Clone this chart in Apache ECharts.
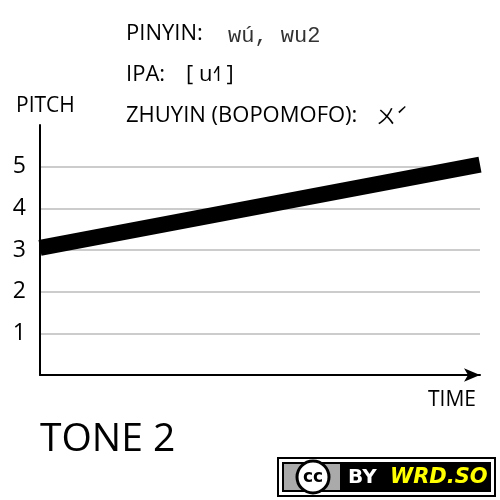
<!DOCTYPE html><html><head><meta charset="utf-8">
<script src="https://cdn.jsdelivr.net/npm/echarts@6/dist/echarts.min.js"></script>
<style>body{margin:0;background:#fff}#c{width:500px;height:500px}</style></head><body><div id="c"></div><script>
const xValues=[0,1];
const pitch=[3.05,5.05];
const yTicks=[1,2,3,4,5];
const c=echarts.init(document.getElementById('c'));
const F='Open Sans';
function T(text,x,y,size,extra){return {type:'text',x:x,y:y,style:Object.assign({text:text,fontSize:size,fontFamily:F,fill:'#000',verticalAlign:'middle'},extra||{})};}
c.setOption({
 animation:false,
 grid:{left:40,right:20,top:125,bottom:125},
 xAxis:{type:'value',min:0,max:1,axisLine:{lineStyle:{color:'#000',width:2},symbol:['none','arrow'],symbolSize:[10,16]},axisTick:{show:false},axisLabel:{show:false},splitLine:{show:false}},
 yAxis:{type:'value',min:0,max:6,interval:1,axisLine:{show:true,lineStyle:{color:'#000',width:2}},axisTick:{show:false},
  axisLabel:{fontFamily:F,fontSize:23,color:'#000',margin:14,formatter:v=>yTicks.includes(v)?String(v):''},
  splitLine:{lineStyle:{color:'#ccc',width:2},showMinLine:false,showMaxLine:false}},
 series:[{type:'line',data:xValues.map((x,i)=>[x,pitch[i]]),symbol:'none',lineStyle:{color:'#000',width:16}}],
 graphic:[
  T('PINYIN:',126,34,22),
  T('wú, wu2',228,36,22,{fontFamily:'Liberation Mono',fill:'#333'}),
  T('IPA:',126,75,22),
  T('[ u˧˥ ]',186,75,22),
  T('ZHUYIN (BOPOMOFO):',126,116,22),
  T('ㄨˊ',376,116,20,{fontFamily:'Noto Sans CJK TC'}),
  T('PITCH',16,106,21),
  T('TIME',428,400,21),
  T('TONE 2',40,440,39),
  {type:'rect',shape:{x:278,y:458,width:217,height:38},style:{fill:'#fff',stroke:'#000',lineWidth:2}},
  {type:'rect',shape:{x:282,y:462,width:209,height:30},style:{fill:'#000'}},
  {type:'rect',shape:{x:284,y:464,width:56,height:26},style:{fill:'#aaa'}},
  {type:'circle',shape:{cx:313,cy:477,r:16},style:{fill:'#fff',stroke:'#000',lineWidth:3}},
  T('cc',313,478,17,{fontFamily:'DejaVu Sans',fontWeight:'bold',align:'center'}),
  T('BY',348,478,20,{fontFamily:'DejaVu Sans',fontWeight:'bold',fill:'#fff'}),
  T('WRD.SO',390,478,21,{fontFamily:'DejaVu Sans',fontWeight:'bold',fontStyle:'italic',fill:'#ff0'})
 ]
});
</script></body></html>
